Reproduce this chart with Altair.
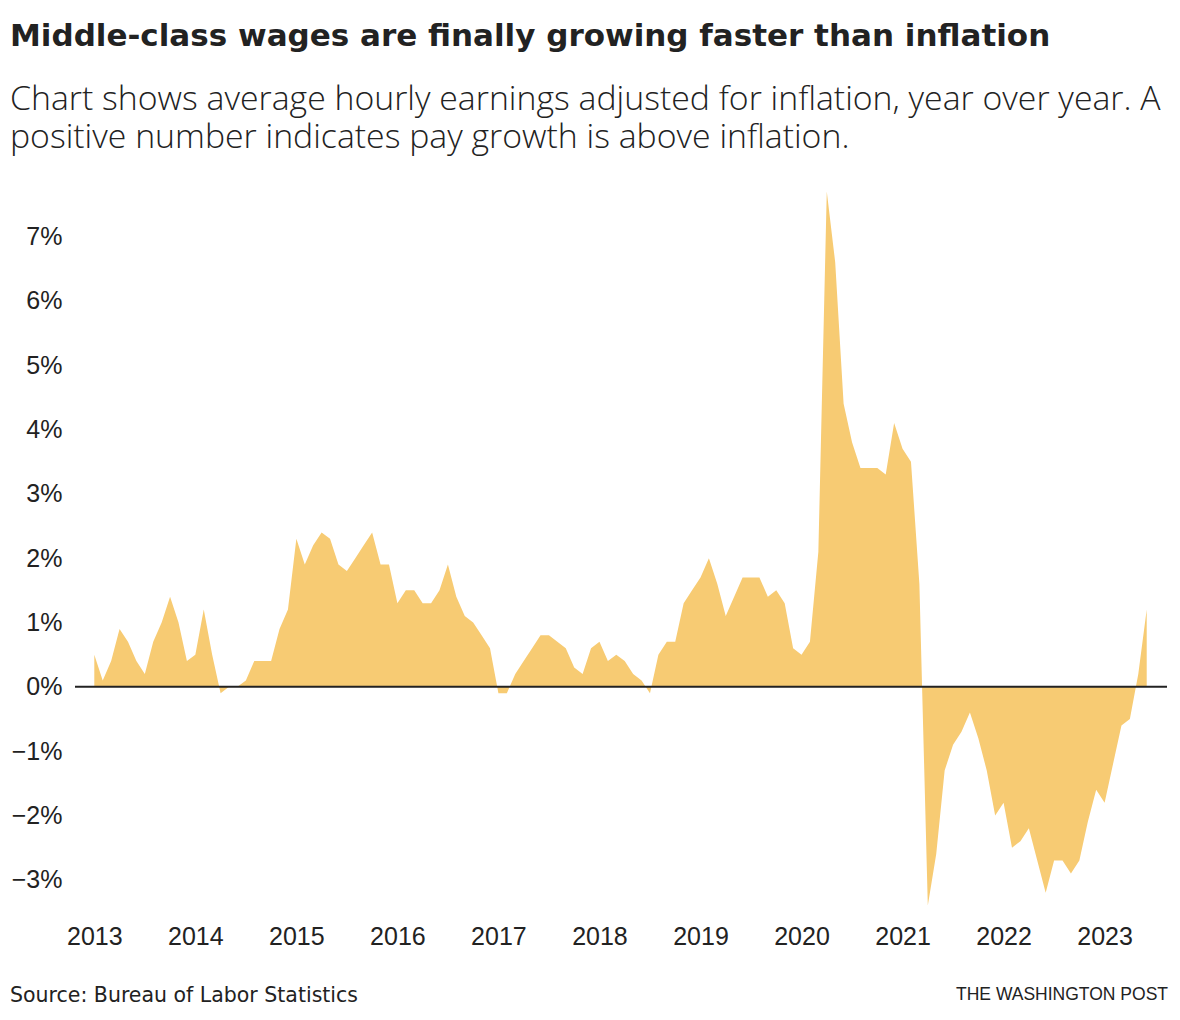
import altair as alt
import pandas as pd

# Real average hourly earnings, year over year (%), monthly from Jan 2013 to Jun 2023
values = [
    0.5, 0.1, 0.4, 0.9, 0.7, 0.4, 0.2, 0.7, 1.0, 1.4, 1.0, 0.4,      # 2013
    0.5, 1.2, 0.5, -0.1, 0.0, 0.0, 0.1, 0.4, 0.4, 0.4, 0.9, 1.2,     # 2014
    2.3, 1.9, 2.2, 2.4, 2.3, 1.9, 1.8, 2.0, 2.2, 2.4, 1.9, 1.9,      # 2015
    1.3, 1.5, 1.5, 1.3, 1.3, 1.5, 1.9, 1.4, 1.1, 1.0, 0.8, 0.6,      # 2016
    -0.1, -0.1, 0.2, 0.4, 0.6, 0.8, 0.8, 0.7, 0.6, 0.3, 0.2, 0.6,    # 2017
    0.7, 0.4, 0.5, 0.4, 0.2, 0.1, -0.1, 0.5, 0.7, 0.7, 1.3, 1.5,     # 2018
    1.7, 2.0, 1.6, 1.1, 1.4, 1.7, 1.7, 1.7, 1.4, 1.5, 1.3, 0.6,      # 2019
    0.5, 0.7, 2.1, 7.7, 6.6, 4.4, 3.8, 3.4, 3.4, 3.4, 3.3, 4.1,      # 2020
    3.7, 3.5, 1.6, -3.4, -2.6, -1.3, -0.9, -0.7, -0.4, -0.8, -1.3, -2.0,  # 2021
    -1.8, -2.5, -2.4, -2.2, -2.7, -3.2, -2.7, -2.7, -2.9, -2.7, -2.1, -1.6,  # 2022
    -1.8, -1.2, -0.6, -0.5, 0.2, 1.2,                                  # 2023
]
month_index = list(range(len(values)))  # months since Jan 2013
year_ticks = [0, 12, 24, 36, 48, 60, 72, 84, 96, 108, 120]
y_ticks = [-3, -2, -1, 0, 1, 2, 3, 4, 5, 6, 7]

title = "Middle-class wages are finally growing faster than inflation"
subtitle = [
    "Chart shows average hourly earnings adjusted for inflation, year over year. A",
    "positive number indicates pay growth is above inflation.",
]
source = "Source: Bureau of Labor Statistics"
credit = "THE WASHINGTON POST"

df = pd.DataFrame({"m": month_index, "value": values})

TEXT = "#222222"
W, H = 1092, 727

x_enc = alt.X(
    "m:Q",
    scale=alt.Scale(domain=[-2.293, 127.41], nice=False, zero=False),
    axis=alt.Axis(
        values=year_ticks,
        labelExpr="2013 + datum.value / 12",
        title=None,
        domain=False,
        ticks=False,
        grid=False,
        labelFont="Liberation Sans",
        labelFontSize=25,
        labelColor=TEXT,
        labelPadding=12,
    ),
)
y_enc = alt.Y(
    "value:Q",
    scale=alt.Scale(domain=[-3.5, 7.8], nice=False),
    axis=alt.Axis(
        values=y_ticks,
        labelExpr="datum.value < 0 ? '\u2212' + abs(datum.value) + '%' : datum.value + '%'",
        title=None,
        domain=False,
        ticks=False,
        grid=False,
        labelFont="Liberation Sans",
        labelFontSize=25,
        labelColor=TEXT,
        labelPadding=13,
    ),
)

area = alt.Chart(df).mark_area(color="#f7cb73", opacity=1).encode(x=x_enc, y=y_enc)

zero = alt.Chart(pd.DataFrame({"z": [0]})).mark_rule(color=TEXT, strokeWidth=2).encode(
    y=alt.Y("z:Q")
)

src = alt.Chart(pd.DataFrame({"t": [source]})).mark_text(
    align="left", baseline="alphabetic", font="DejaVu Sans", fontSize=20.5, color=TEXT
).encode(text="t:N", x=alt.value(-65), y=alt.value(1002 - 185))

cred = alt.Chart(pd.DataFrame({"t": [credit]})).mark_text(
    align="right", baseline="alphabetic", font="Liberation Sans", fontSize=17.5, color=TEXT
).encode(text="t:N", x=alt.value(1168 - 75), y=alt.value(1000 - 185))

chart = (
    alt.layer(area, zero, src, cred)
    .properties(
        width=W,
        height=H,
        background="white",
        padding={"left": 67, "top": 177, "right": 3, "bottom": 98},
        autosize=alt.AutoSizeParams(type="none"),
        title=alt.TitleParams(
            text=title,
            subtitle=subtitle,
            anchor="start",
            frame="group",
            dx=-65,
            offset=29,
            font="DejaVu Sans",
            fontSize=31,
            fontWeight="bold",
            color=TEXT,
            subtitleFont="Open Sans",
            subtitleFontSize=33.8,
            subtitleFontWeight=300,
            subtitleColor=TEXT,
            subtitleLineHeight=38,
            subtitlePadding=30,
        ),
    )
    .configure_view(strokeWidth=0, stroke="transparent")
)

chart.save("out.html", embed_options={"renderer": "svg", "actions": False})
